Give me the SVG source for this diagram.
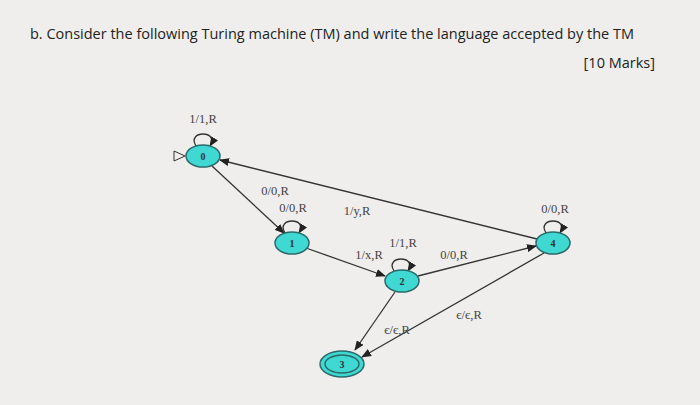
<svg xmlns="http://www.w3.org/2000/svg" width="700" height="405" viewBox="0 0 700 405">
<style>
.h{font-family:"Open Sans","Liberation Sans",sans-serif;font-size:14.5px;fill:#222}
.n{fill:#3fd8d2;stroke:#2a6a6a;stroke-width:1.5}
.nt{font-family:"Liberation Serif",serif;font-size:10px;font-weight:bold;fill:#333;text-anchor:middle}
.l{font-family:"Liberation Serif",serif;font-size:12.5px;fill:#444;text-anchor:middle}
.e{stroke:#333;stroke-width:1.3;fill:none}
</style>
<defs><marker id="a" markerWidth="10" markerHeight="8" refX="9" refY="4" orient="auto" markerUnits="userSpaceOnUse"><path d="M0,0L10,4L0,8z" fill="#222"/></marker></defs>
<rect width="700" height="405" fill="#efeeec"/>
<text class="h" x="30" y="39" textLength="604">b.  Consider the following Turing machine (TM) and write the language accepted by the TM</text>
<text class="h" x="655" y="68" text-anchor="end">[10 Marks]</text>
<g id="edges">
<path class="e" marker-end="url(#a)" d="M212,166L284,233"/>
<path class="e" marker-end="url(#a)" d="M306,248L385,276"/>
<path class="e" marker-end="url(#a)" d="M418,276L536,246"/>
<path class="e" marker-end="url(#a)" d="M537,239L220,160"/>
<path class="e" marker-end="url(#a)" d="M395,292L355,350"/>
<path class="e" marker-end="url(#a)" d="M544,253L362,357"/>
<path class="e" marker-end="url(#a)" d="M196,146C186,130 220,130 210,146"/>
<path class="e" marker-end="url(#a)" d="M285,233C275,217 309,217 299,233"/>
<path class="e" marker-end="url(#a)" d="M394,271C384,255 418,255 408,271"/>
<path class="e" marker-end="url(#a)" d="M546,233C536,217 570,217 560,233"/>
<path d="M174,151L185,156L174,161z" fill="none" stroke="#333"/>
<text class="l" x="203" y="123">1/1,R</text>
<text class="l" x="275" y="195">0/0,R</text>
<text class="l" x="293" y="212">0/0,R</text>
<text class="l" x="357" y="215">1/y,R</text>
<text class="l" x="403" y="247">1/1,R</text>
<text class="l" x="369" y="259">1/x,R</text>
<text class="l" x="454" y="259">0/0,R</text>
<text class="l" x="555" y="213">0/0,R</text>
<text class="l" x="469" y="319">є/є,R</text>
<text class="l" x="397" y="334">є/є,R</text>
</g>
<g id="n0"><ellipse class="n" cx="203" cy="156" rx="17" ry="11"/><text class="nt" x="203" y="160">0</text></g>
<g id="n1"><ellipse class="n" cx="292" cy="243" rx="17" ry="11"/><text class="nt" x="292" y="247">1</text></g>
<g id="n2"><ellipse class="n" cx="402" cy="281" rx="17" ry="11"/><text class="nt" x="402" y="285">2</text></g>
<g id="n3"><ellipse class="n" cx="342" cy="364" rx="22" ry="13"/><ellipse class="n" cx="342" cy="364" rx="17" ry="9"/><text class="nt" x="342" y="368">3</text></g>
<g id="n4"><ellipse class="n" cx="553" cy="243" rx="17" ry="11"/><text class="nt" x="553" y="247">4</text></g>
</svg>
